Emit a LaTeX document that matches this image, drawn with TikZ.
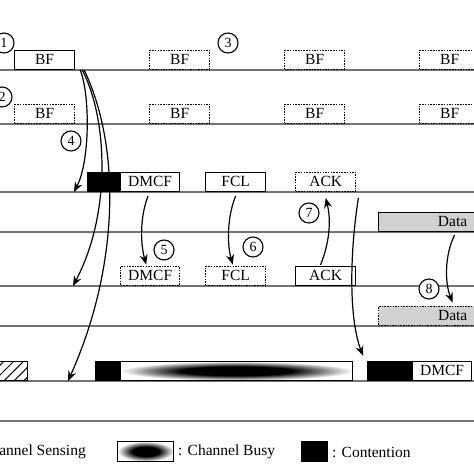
\documentclass[tikz,border=0pt]{standalone}
\usepackage{fontspec}
\setmainfont{Liberation Serif}
\usetikzlibrary{arrows.meta,patterns.meta,positioning}
\pgfdeclareradialshading{busyshade}{\pgfpoint{0bp}{0bp}}{color(0bp)=(black); color(12bp)=(black); color(25bp)=(white); color(50bp)=(white)}
\tikzset{
  chan/.style={draw=black!55, line width=1.1pt},
  frame/.style={draw=black, line width=1.2pt, fill=white, minimum width=60pt, minimum height=19pt,
    inner sep=0pt, anchor=south west, font=\fontsize{15.5}{18}\selectfont},
  dotframe/.style={frame, dash pattern=on 1.5pt off 1.2pt, line width=1.4pt},
  cont/.style={frame, fill=black, minimum width=33pt},
  datablock/.style={frame, fill=black!18, minimum width=148pt},
  busyblock/.style={frame, shade, shading=busyshade},
  num/.style={circle, draw=black, line width=1.1pt, fill=white, minimum size=20pt, inner sep=0pt,
    font=\fontsize{14}{16}\selectfont},
  arr/.style={-{Stealth[length=10pt,width=8pt]}, line width=1.2pt},
  lbl/.style={font=\fontsize{15.5}{18}\selectfont, inner sep=0pt}
}

\begin{document}
\begin{tikzpicture}[x=1pt, y=-1pt]
  \useasboundingbox (0,0) rectangle (474,474);
  \clip (0,0) rectangle (474,474);

  % channel lines
  \foreach \y in {70,124,192,232,286,326,381,421}
    \draw[chan] (0,\y) -- (474,\y);

  % beacon frames
  \node[frame] (bf1) at (14,70) {BF};
  \node[dotframe] (bf2) at (149,70) {BF};
  \node[dotframe] (bf3) at (284,70) {BF};
  \node[dotframe] (bf4) at (419,70) {BF};
  \node[dotframe] (bf5) at (14,124) {BF};
  \node[dotframe] (bf6) at (149,124) {BF};
  \node[dotframe] (bf7) at (284,124) {BF};
  \node[dotframe] (bf8) at (419,124) {BF};

  % control and data frames
  \node[cont] (ct1) at (87,192) {};
  \node[frame, minimum width=59pt] (dmcf1) at (120,192) {DMCF};
  \node[frame] (fcl1) at (205,192) {FCL};
  \node[dotframe] (ack1) at (295,192) {ACK};
  \node[datablock] (data1) at (378,232) {Data};
  \node[dotframe, minimum width=59pt] (dmcf2) at (120,286) {DMCF};
  \node[dotframe] (fcl2) at (205,286) {FCL};
  \node[frame] (ack2) at (295,286) {ACK};
  \node[datablock, dash pattern=on 1.5pt off 1.2pt, line width=1.4pt] (data2) at (378,326) {Data};

  % bottom channel
  \node[frame, minimum width=47pt, pattern={Lines[angle=45,distance=7pt,line width=1pt]}] (sense) at (-20,381) {};
  \node[cont, minimum width=25pt] (ct2) at (95,381) {};
  \node[busyblock, minimum width=232pt] (busy) at (120,381) {};
  \node[cont, minimum width=45pt] (ct3) at (367,381) {};
  \node[frame, minimum width=59pt] (dmcf3) at (412,381) {DMCF};

  % step numbers
  \node[num] (c1) at (4,43) {1};
  \node[num] (c2) at (2,97) {2};
  \node[num] (c3) at (228,43) {3};
  \node[num] (c4) at (71,141) {4};
  \node[num] (c5) at (164,250) {5};
  \node[num] (c6) at (253,247) {6};
  \node[num] (c7) at (309,213) {7};
  \node[num] (c8) at (429,289) {8};

  % connectors
  \draw[arr] ([xshift=5pt]bf1.south east) .. controls +(10,25) and +(16,-31) .. ([xshift=-13pt]ct1.south west);
  \draw[arr] ([xshift=7pt]bf1.south east) .. controls +(24,45) and +(40,-76) .. ([xshift=-47pt]dmcf2.south west);
  \draw[arr] ([xshift=9pt]bf1.south east) .. controls +(38,80) and +(50,-111) .. ([xshift=-27pt]ct2.south west);
  \draw[arr] ([xshift=-2pt,yshift=-4pt]dmcf1.south) .. controls +(-8,20) and +(-6,-22) .. ([xshift=-4pt,yshift=1pt]dmcf2.north);
  \draw[arr] ([yshift=-4pt]fcl1.south) .. controls +(-8,20) and +(-6,-22) .. ([xshift=-3pt,yshift=1pt]fcl2.north);
  \draw[arr] ([xshift=-5pt,yshift=1pt]ack2.north) .. controls +(10,-25) and +(5,20) .. ([yshift=-6pt]ack1.south);
  \draw[arr] ([xshift=2pt,yshift=-6pt]ack1.south east) .. controls +(-8,50) and +(-15,-40) .. ([xshift=-4pt,yshift=5pt]ct3.north west);
  \draw[arr] ([xshift=2pt,yshift=-3pt]data1.south) .. controls +(-10,20) and +(-8,-20) .. ([yshift=3pt]data2.north);

  % legend
  \node[lbl, anchor=east] (lgsense) at (86,452) {: Channel Sensing};
  \node[busyblock, minimum width=56pt, minimum height=20pt] (lgbusybox) at (117,462) {};
  \node[lbl, anchor=west] (lgbusy) at (178,452) {: Channel Busy};
  \node[cont, minimum width=26pt, minimum height=20pt] (lgcontbox) at (301,462) {};
  \node[lbl, anchor=west] (lgcont) at (332,452) {: Contention};
\end{tikzpicture}
\end{document}
